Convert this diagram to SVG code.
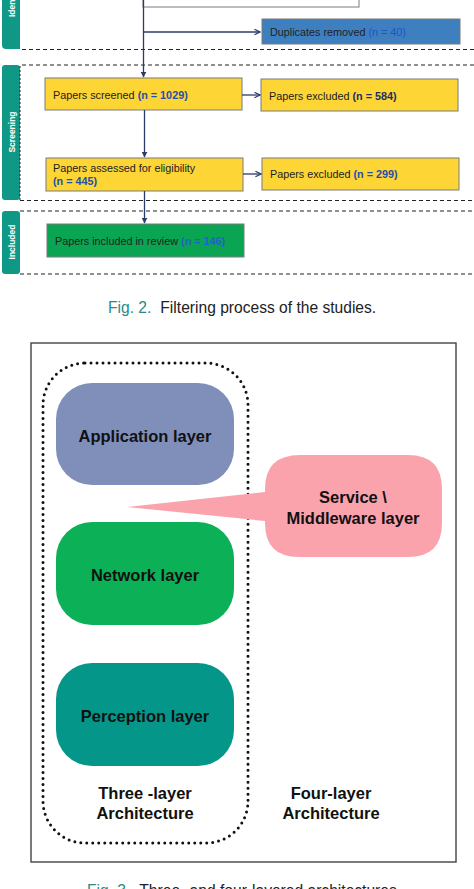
<svg xmlns="http://www.w3.org/2000/svg" width="474" height="889" viewBox="0 0 474 889">
<defs>
<style>
.ft{font-family:"Liberation Sans",Arial,sans-serif;font-size:10.8px;fill:#222}
.nb{fill:#1f4fa8;font-weight:bold}
.box{stroke:#7a7a7a;stroke-width:1}
.ln{stroke:#2b3b6b;stroke-width:1.3;fill:none}
.dash{stroke:#222;stroke-width:1.2;stroke-dasharray:4 3;fill:none}
.strip{fill:#0f9886}
.st{font-family:"Liberation Sans",Arial,sans-serif;font-size:8.5px;font-weight:bold;fill:#fff}
.lt{font-family:"Liberation Sans",Arial,sans-serif;font-size:16.5px;font-weight:bold;fill:#111;text-anchor:middle}
.cap{font-family:"Liberation Sans",Arial,sans-serif;font-size:15.6px;fill:#222}
.capf{fill:#2a8a86}
</style>
<marker id="ah" viewBox="0 0 10 10" refX="9" refY="5" markerWidth="7" markerHeight="7" orient="auto" markerUnits="userSpaceOnUse">
<path d="M1,1 L9,5 L1,9" fill="none" stroke="#2b3b6b" stroke-width="1.6"/>
</marker>
<marker id="ahf" viewBox="0 0 10 10" refX="9" refY="5" markerWidth="6" markerHeight="6" orient="auto" markerUnits="userSpaceOnUse">
<path d="M0,0 L10,5 L0,10 Z" fill="#2b3b6b"/>
</marker>
</defs>
<rect width="474" height="889" fill="#fff"/>

<!-- Fig. 2 phase strips -->
<g id="strip-identification">
<path class="strip" d="M2,-5 H20 V49 H6 Q2,49 2,45 Z"/>
<text class="st" transform="translate(14.5,17) rotate(-90)">Identification</text>
</g>
<g id="strip-screening">
<rect class="strip" x="2" y="65" width="18" height="135" rx="3"/>
<line x1="20" y1="66" x2="20" y2="200" stroke="#222" stroke-width="1" stroke-dasharray="2 2"/>
<text class="st" text-anchor="middle" transform="translate(14.5,132) rotate(-90)">Screening</text>
</g>
<g id="strip-included">
<rect class="strip" x="2" y="211" width="18" height="63" rx="3"/>
<text class="st" text-anchor="middle" transform="translate(14.5,242) rotate(-90)">Included</text>
</g>

<g id="separators">
<line class="dash" x1="22" y1="49.5" x2="474" y2="49.5"/>
<line class="dash" x1="22" y1="65" x2="474" y2="65"/>
<line class="dash" x1="20" y1="200.5" x2="474" y2="200.5"/>
<line class="dash" x1="20" y1="211" x2="474" y2="211"/>
<line class="dash" x1="20" y1="274" x2="474" y2="274"/>
</g>

<!-- Fig. 2 nodes -->
<g id="box-identified">
<rect x="143" y="-10" width="216" height="17" fill="#fff" class="box"/>
</g>
<g id="box-duplicates">
<rect x="262" y="19" width="198" height="25" fill="#3e7fbf" class="box" stroke="#5a86b5"/>
<text class="ft" x="270" y="36">Duplicates removed <tspan fill="#1a55c8">(n = 40)</tspan></text>
</g>
<g id="box-screened">
<rect x="45" y="78" width="197" height="32" fill="#fdd535" class="box"/>
<text class="ft" x="53" y="98.5">Papers screened <tspan class="nb">(n = 1029)</tspan></text>
</g>
<g id="box-excluded1">
<rect x="261" y="79" width="197" height="32" fill="#fdd535" class="box"/>
<text class="ft" x="269" y="99.5">Papers excluded <tspan fill="#1d2e66" font-weight="bold">(n = 584)</tspan></text>
</g>
<g id="box-assessed">
<rect x="46" y="158" width="197" height="33" fill="#fdd535" class="box"/>
<text class="ft" x="53" y="172">Papers assessed for eligibility</text>
<text class="ft" x="53" y="185"><tspan class="nb">(n = 445)</tspan></text>
</g>
<g id="box-excluded2">
<rect x="262" y="158" width="197" height="32" fill="#fdd535" class="box"/>
<text class="ft" x="270" y="178">Papers excluded <tspan class="nb">(n = 299)</tspan></text>
</g>
<g id="box-included">
<rect x="47" y="224" width="197" height="33" fill="#0aa552" class="box" stroke="#6aa87a"/>
<text class="ft" x="55" y="244.5" fill="#1a3a2a">Papers included in review <tspan fill="#1f63c8" font-weight="bold">(n = 146)</tspan></text>
</g>

<!-- Fig. 2 connectors -->
<g id="connectors">
<line class="ln" x1="143.5" y1="0" x2="143.5" y2="77" marker-end="url(#ahf)"/>
<line class="ln" x1="143.5" y1="32" x2="260" y2="32" marker-end="url(#ah)"/>
<line class="ln" x1="242" y1="95" x2="260" y2="95" marker-end="url(#ah)"/>
<line class="ln" x1="144.5" y1="110" x2="144.5" y2="157" marker-end="url(#ahf)"/>
<line class="ln" x1="243" y1="174" x2="261" y2="174" marker-end="url(#ah)"/>
<line class="ln" x1="144.5" y1="191" x2="144.5" y2="223" marker-end="url(#ahf)"/>
</g>

<text class="cap" x="108" y="313"><tspan class="capf">Fig. 2.</tspan><tspan dx="9">Filtering process of the studies.</tspan></text>

<!-- Fig. 3 -->
<g id="frame">
<rect x="31" y="343" width="425" height="519" fill="none" stroke="#444" stroke-width="1.4"/>
</g>
<g id="three-layer-group">
<rect x="43" y="363" width="205" height="480" rx="42" fill="none" stroke="#111" stroke-width="3" stroke-linecap="round" stroke-dasharray="0 6"/>
</g>
<g id="application-layer">
<rect x="56" y="383" width="178" height="102" rx="36" fill="#7f8fba"/>
<text class="lt" x="145" y="442">Application layer</text>
</g>
<g id="service-layer">
<path d="M300,455 H408 Q442,455 442,489 V523 Q442,557 408,557 H299 Q265,557 265,523 V521 L127,507 L265,492 V489 Q265,455 300,455 Z" fill="#fba3ad"/>
<text class="lt" x="353" y="503">Service \</text>
<text class="lt" x="353" y="524">Middleware layer</text>
</g>
<g id="network-layer">
<rect x="56" y="522" width="178" height="103" rx="36" fill="#0bb057"/>
<text class="lt" x="145" y="581">Network layer</text>
</g>
<g id="perception-layer">
<rect x="56" y="663" width="178" height="103" rx="36" fill="#05968a"/>
<text class="lt" x="145" y="722">Perception layer</text>
</g>
<text class="lt" x="145" y="799">Three -layer</text>
<text class="lt" x="145" y="819">Architecture</text>
<text class="lt" x="331" y="799">Four-layer</text>
<text class="lt" x="331" y="819">Architecture</text>

<text class="cap" x="87" y="896"><tspan class="capf">Fig. 3.</tspan><tspan dx="9">Three- and four-layered architectures.</tspan></text>
</svg>
